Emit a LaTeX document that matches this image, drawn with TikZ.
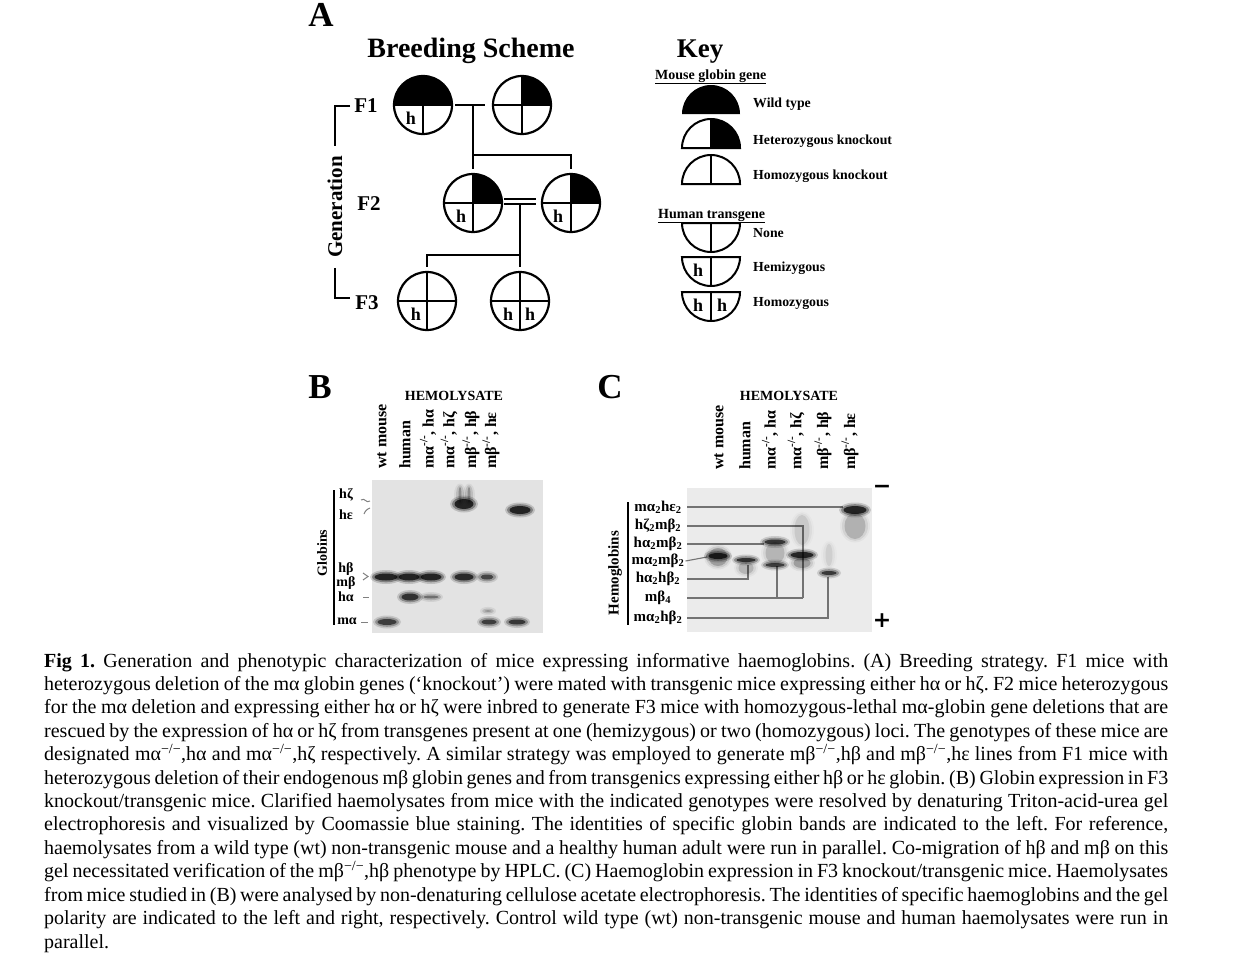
\documentclass[tikz,border=0pt]{standalone}
\usepackage{fontspec}
\usepackage{graphicx}
\setmainfont{Liberation Serif}
\newfontfamily\symfont{DejaVu Sans}
\frenchspacing
\newcommand\gband[5]{%
  \pgfmathsetmacro\gbA{0.16*#5}\pgfmathsetmacro\gbB{0.32*#5}\pgfmathsetmacro\gbC{0.72*#5}%
  \fill[black,opacity=\gbA] (#1,#2) ellipse[x radius=#3+3, y radius=#4+2.5];
  \fill[black,opacity=\gbB] (#1,#2) ellipse[x radius=#3+1, y radius=#4+0.8];
  \fill[black,opacity=\gbC] (#1,#2) ellipse[x radius=#3-1.5, y radius=#4-1];}
\begin{document}
\begin{tikzpicture}[x=1pt,y=-1pt,
  ped/.style={circle,draw,line width=2.2pt,minimum size=58pt,inner sep=0pt,outer sep=0pt},
  quad/.style={line width=2pt},
  pedline/.style={line width=2.6pt},
  brk/.style={line width=2pt},
  hl/.style={font=\bfseries\fontsize{18}{20}\selectfont,inner sep=0pt},
  gl/.style={font=\bfseries\fontsize{21}{24}\selectfont,inner sep=0pt},
  big/.style={font=\bfseries\fontsize{35}{40}\selectfont,inner sep=0pt,anchor=base},
  kshape/.style={line width=2pt},
  khead/.style={font=\bfseries\fontsize{14}{16}\selectfont,inner sep=0pt,anchor=base west},
  kt/.style={font=\bfseries\fontsize{13.8}{16}\selectfont,inner sep=0pt,anchor=base west},
  lane/.style={font=\bfseries\fontsize{16}{18}\selectfont,inner sep=0pt,rotate=90,anchor=west},
  hemo/.style={font=\bfseries\fontsize{14}{16}\selectfont,inner sep=0pt},
  glab/.style={font=\bfseries\fontsize{14}{16}\selectfont,inner sep=0pt},
  clab/.style={font=\bfseries\fontsize{15}{17}\selectfont,inner sep=0pt},
  tick/.style={draw=black!50,line width=1pt},
  cline/.style={draw=black!55,line width=1.1pt},
  polar/.style={font=\symfont\bfseries\fontsize{22}{24}\selectfont,inner sep=0pt},
  capl/.style={anchor=base west,inner sep=0pt,font=\fontsize{20}{22}\selectfont}]
\useasboundingbox (0,0) rectangle (1250,966);
\fill[white] (0,0) rectangle (1250,966);

% ---------------- Panel A ----------------
\node[big] (lA) at (321,27) {A};
\node[font=\bfseries\fontsize{28}{32}\selectfont,inner sep=0pt,anchor=base] (title) at (471,58) {Breeding Scheme};

\node[ped] (f1a) at (423,105) {};
\node[ped] (f1b) at (522,105) {};
\node[ped] (f2a) at (473,203) {};
\node[ped] (f2b) at (571,203) {};
\node[ped] (f3a) at (427,301) {};
\node[ped] (f3b) at (520,301) {};

\begin{scope}
  \clip (f1a.center) circle[radius=29];
  \fill ([xshift=-31pt]f1a.center) rectangle ([xshift=31pt,yshift=31pt]f1a.center);
\end{scope}
\foreach \c in {f1b,f2a,f2b}{
  \begin{scope}
    \clip (\c.center) circle[radius=29];
    \fill (\c.center) rectangle ([xshift=31pt,yshift=31pt]\c.center);
  \end{scope}}
\draw[quad] (f1a.west) -- (f1a.east) (f1a.center) -- (f1a.south);
\foreach \c in {f1b,f2a,f2b,f3a,f3b}{
  \draw[quad] (\c.west) -- (\c.east) (\c.north) -- (\c.south);}
\node[hl] (h1) at ([xshift=-12pt,yshift=-13pt]f1a.center) {h};
\node[hl] (h2) at ([xshift=-12pt,yshift=-13pt]f2a.center) {h};
\node[hl] (h3) at ([xshift=-13pt,yshift=-13pt]f2b.center) {h};
\node[hl] (h4) at ([xshift=-11pt,yshift=-13pt]f3a.center) {h};
\node[hl] (h5) at ([xshift=-12pt,yshift=-13pt]f3b.center) {h};
\node[hl] (h6) at ([xshift=10pt,yshift=-13pt]f3b.center) {h};

% connectors
\draw[pedline] ([xshift=3pt]f1a.east) -- ([xshift=-8pt]f1b.west);
\draw[pedline] (f2a.north |- f1a.east) -- ([yshift=5pt]f2a.north);
\draw[pedline] ([yshift=19pt]f2a.north) -| ([yshift=5pt]f2b.north);
\draw[line width=2pt] ([xshift=2pt,yshift=4pt]f2a.east) -- ([xshift=-6pt,yshift=4pt]f2b.west);
\draw[line width=2pt] ([xshift=2pt,yshift=-1pt]f2a.east) -- ([xshift=-6pt,yshift=-1pt]f2b.west);
\draw[pedline] ([yshift=-1pt]f3b.north |- f2a.east) -- ([yshift=5pt]f3b.north);
\draw[pedline] ([yshift=17pt]f3b.north) -| ([yshift=5pt]f3a.north);

% generation bracket
\node[gl,anchor=base] (gF1) at (366,112) {F1};
\node[gl,anchor=base] (gF2) at (369,210) {F2};
\node[gl,anchor=base] (gF3) at (367,309) {F3};
\node[gl,rotate=90] (gen) at (335,207) {Generation};
\coordinate (bt) at (350,106);
\coordinate (bb) at (350,298);
\draw[brk] (bt) -| ([yshift=10pt]gen.east);
\draw[brk] ([yshift=-10pt]gen.west) |- (bb);

% ---------------- Key ----------------
\node[font=\bfseries\fontsize{27}{30}\selectfont,inner sep=0pt,anchor=base] (key) at (700,58) {Key};
\node[khead] (kmg) at (655,79) {\underline{Mouse globin gene}};
\coordinate (kw) at (711,114);
\coordinate (kh) at (711,148);
\coordinate (ko) at (711,184);
\fill (kw) ++(-29,0) arc[start angle=180,end angle=360,radius=29] -- cycle;
\fill (kh) -- ++(29,0) arc[start angle=0,end angle=-90,radius=29] -- cycle;
\draw[kshape] (kh) ++(-29,0) arc[start angle=180,end angle=360,radius=29] -- cycle;
\draw[kshape] (kh) -- ++(0,-29);
\draw[kshape] (ko) ++(-29,0) arc[start angle=180,end angle=360,radius=29] -- cycle;
\draw[kshape] (ko) -- ++(0,-29);
\node[kt] (kt1) at (753,107.5) {Wild type};
\node[kt] (kt2) at (753,144.5) {Heterozygous knockout};
\node[kt] (kt3) at (753,179.5) {Homozygous knockout};

\node[khead] (kht) at (658,218) {\underline{Human transgene}};
\coordinate (kn) at (711,223);
\coordinate (ke) at (711,257);
\coordinate (km) at (711,292);
\foreach \c in {kn,ke,km}{
  \draw[kshape] (\c) ++(-29,0) arc[start angle=180,end angle=0,radius=29] -- cycle;
  \draw[kshape] (\c) -- ++(0,29);}
\node[hl] (kh1) at (698,270) {h};
\node[hl] (kh2) at (698,305) {h};
\node[hl] (kh3) at (722,305) {h};
\node[kt] (kt4) at (753,237.5) {None};
\node[kt] (kt5) at (753,271.5) {Hemizygous};
\node[kt] (kt6) at (753,306.5) {Homozygous};

% ---------------- Panel B ----------------
\node[big] (lB) at (320,398) {B};
\node[hemo] (hemB) at (454,396) {HEMOLYSATE};
\node[lane] (bl1) at (382,469) {wt mouse};
\node[lane] (bl2) at (405,469) {human};
\node[lane] (bl3) at (428,469) {mα\textsuperscript{-/-}, hα};
\node[lane] (bl4) at (449,469) {mα\textsuperscript{-/-}, hζ};
\node[lane] (bl5) at (471,469) {mβ\textsuperscript{-/-}, hβ};
\node[lane] (bl6) at (491,469) {mβ\textsuperscript{-/-}, hε};

\node[fill=black!11,inner sep=0pt,minimum width=171pt,minimum height=153pt,anchor=north west] (gelB) at (372,480) {};
% bands
\gband{386}{577}{13}{4.5}{1}
\gband{387}{622}{11}{4}{0.8}
\gband{409}{577}{12}{4.5}{1}
\gband{410}{597}{10}{4.5}{0.9}
\gband{431}{577}{12}{4.5}{1}
\gband{431}{597}{9}{2.5}{0.5}
\gband{464}{577}{11}{4.5}{0.95}
\gband{460}{495}{3}{9}{0.35}
\gband{469}{495}{3}{9}{0.35}
\gband{464}{504}{11}{6}{1}
\gband{487}{577}{8}{3.5}{0.75}
\gband{488}{611}{5}{1.6}{0.4}
\gband{489}{622}{9}{3.5}{0.8}
\gband{520}{510}{12}{5}{1}
\gband{517}{622}{10}{3.5}{0.85}

\node[glab,rotate=90] (globins) at (322,553) {Globins};
\draw[line width=1.6pt] (334,490) -- (334,625);
\node[glab] (bz) at (346,495) {hζ};
\node[glab] (be) at (346,515) {hε};
\node[glab] (bhb) at (346,569) {hβ};
\node[glab] (bmb) at (346,583) {mβ};
\node[glab] (bha) at (346,597) {hα};
\node[glab] (bma) at (347,621) {mα};
\draw[tick] (361,500) .. controls (365,497) and (366,504) .. (370,501);
\draw[tick] (364,514) .. controls (366,510) .. (370,508);
\draw[tick] (363,573) -- (368,576.5) -- (363,580);
\draw[tick] (363,597) -- (369,597);
\draw[tick] (361,622) -- (368,622);

% ---------------- Panel C ----------------
\node[big] (lC) at (610,398) {C};
\node[hemo] (hemC) at (789,396) {HEMOLYSATE};
\node[lane] (cl1) at (719,470) {wt mouse};
\node[lane] (cl2) at (745,470) {human};
\node[lane] (cl3) at (770,470) {mα\textsuperscript{-/-}, hα};
\node[lane] (cl4) at (796,470) {mα\textsuperscript{-/-}, hζ};
\node[lane] (cl5) at (823,470) {mβ\textsuperscript{-/-}, hβ};
\node[lane] (cl6) at (850,470) {mβ\textsuperscript{-/-}, hε};

\node[fill=black!8,inner sep=0pt,minimum width=185pt,minimum height=144pt,anchor=north west] (gelC) at (687,488) {};

\node[clab] (c1) at (658,507) {mα\textsubscript{2}hε\textsubscript{2}};
\node[clab] (c2) at (658,526) {hζ\textsubscript{2}mβ\textsubscript{2}};
\node[clab] (c3) at (658,544) {hα\textsubscript{2}mβ\textsubscript{2}};
\node[clab] (c4) at (658,561) {mα\textsubscript{2}mβ\textsubscript{2}};
\node[clab] (c5) at (658,579) {hα\textsubscript{2}hβ\textsubscript{2}};
\node[clab] (c6) at (658,598) {mβ\textsubscript{4}};
\node[clab] (c7) at (658,618) {mα\textsubscript{2}hβ\textsubscript{2}};
\node[glab,font=\bfseries\fontsize{15}{17}\selectfont,rotate=90] (hemoglobins) at (615,573) {Hemoglobins};
\draw[line width=1.6pt] (628,502) -- (628,625);

\coordinate (cb1) at (843,508);
\coordinate (cz) at (803,598);
\coordinate (cb3a) at (764,542);
\coordinate (cb3b) at (777,566);
\coordinate (cb4) at (707,557);
\coordinate (cb5) at (748,565);
\coordinate (cb7) at (828,577);
\draw[cline] (c1.east -| gelC.west) -- (c1.east -| cb1);
\draw[cline] (c2.east -| gelC.west) -| (cz);
\draw[cline] (c3.east -| gelC.west) -- (c3.east -| cb3a);
\draw[cline] ([xshift=1pt]c4.east) -- (cb4);
\draw[cline] (c5.east -| gelC.west) -| (cb5);
\draw[cline] (c6.east -| gelC.west) -- (c6.east -| cz);
\draw[cline] (cb3b) -- (cb3b |- c6.east);
\draw[cline] (c7.east -| gelC.west) -| (cb7);

% bands C
\gband{718}{557}{11}{10}{0.3}
\gband{718}{556}{11}{4}{1}
\gband{746}{568}{9}{7}{0.2}
\gband{746}{560}{11}{3}{0.9}
\gband{775}{553}{11}{12}{0.2}
\gband{775}{542}{12}{3.5}{0.85}
\gband{775}{565}{11}{3}{0.8}
\gband{802}{530}{9}{16}{0.12}
\gband{802}{563}{10}{6}{0.3}
\gband{802}{555}{13}{4}{1}
\gband{829}{555}{5}{12}{0.1}
\gband{829}{573}{9}{3}{0.85}
\gband{855}{526}{12}{14}{0.22}
\gband{855}{510}{13}{5}{1}

\node[polar] (minus) at (882,489) {−};
\node[polar] (plus) at (882,621) {+};

% ---------------- Caption ----------------
\node[capl] (cap1) at (44,667.0) {\makebox[1124pt][s]{\textbf{Fig 1.} Generation and phenotypic characterization of mice expressing informative haemoglobins. (A) Breeding strategy. F1 mice with}};
\node[capl] (cap2) at (44,690.4) {\makebox[1124pt][s]{heterozygous deletion of the mα globin genes (‘knockout’) were mated with transgenic mice expressing either hα or hζ. F2 mice heterozygous}};
\node[capl] (cap3) at (44,713.8) {\makebox[1124pt][s]{for the mα deletion and expressing either hα or hζ were inbred to generate F3 mice with homozygous-lethal mα-globin gene deletions that are}};
\node[capl] (cap4) at (44,737.3) {\makebox[1124pt][s]{rescued by the expression of hα or hζ from transgenes present at one (hemizygous) or two (homozygous) loci. The genotypes of these mice are}};
\node[capl] (cap5) at (44,760.7) {\makebox[1124pt][s]{designated mα\textsuperscript{−/−},hα and mα\textsuperscript{−/−},hζ respectively. A similar strategy was employed to generate mβ\textsuperscript{−/−},hβ and mβ\textsuperscript{−/−},hε lines from F1 mice with}};
\node[capl] (cap6) at (44,784.1) {\makebox[1124pt][s]{heterozygous deletion of their endogenous mβ globin genes and from transgenics expressing either hβ or hε globin. (B) Globin expression in F3}};
\node[capl] (cap7) at (44,807.5) {\makebox[1124pt][s]{knockout/transgenic mice. Clarified haemolysates from mice with the indicated genotypes were resolved by denaturing Triton-acid-urea gel}};
\node[capl] (cap8) at (44,830.9) {\makebox[1124pt][s]{electrophoresis and visualized by Coomassie blue staining. The identities of specific globin bands are indicated to the left. For reference,}};
\node[capl] (cap9) at (44,854.4) {\makebox[1124pt][s]{haemolysates from a wild type (wt) non-transgenic mouse and a healthy human adult were run in parallel. Co-migration of hβ and mβ on this}};
\node[capl] (cap10) at (44,877.8) {\makebox[1124pt][s]{gel necessitated verification of the mβ\textsuperscript{−/−},hβ phenotype by HPLC. (C) Haemoglobin expression in F3 knockout/transgenic mice. Haemolysates}};
\node[capl] (cap11) at (44,901.2) {\makebox[1124pt][s]{from mice studied in (B) were analysed by non-denaturing cellulose acetate electrophoresis. The identities of specific haemoglobins and the gel}};
\node[capl] (cap12) at (44,924.6) {\makebox[1124pt][s]{polarity are indicated to the left and right, respectively. Control wild type (wt) non-transgenic mouse and human haemolysates were run in}};
\node[capl] (cap13) at (44,948.0) {parallel.};
\end{tikzpicture}
\end{document}
